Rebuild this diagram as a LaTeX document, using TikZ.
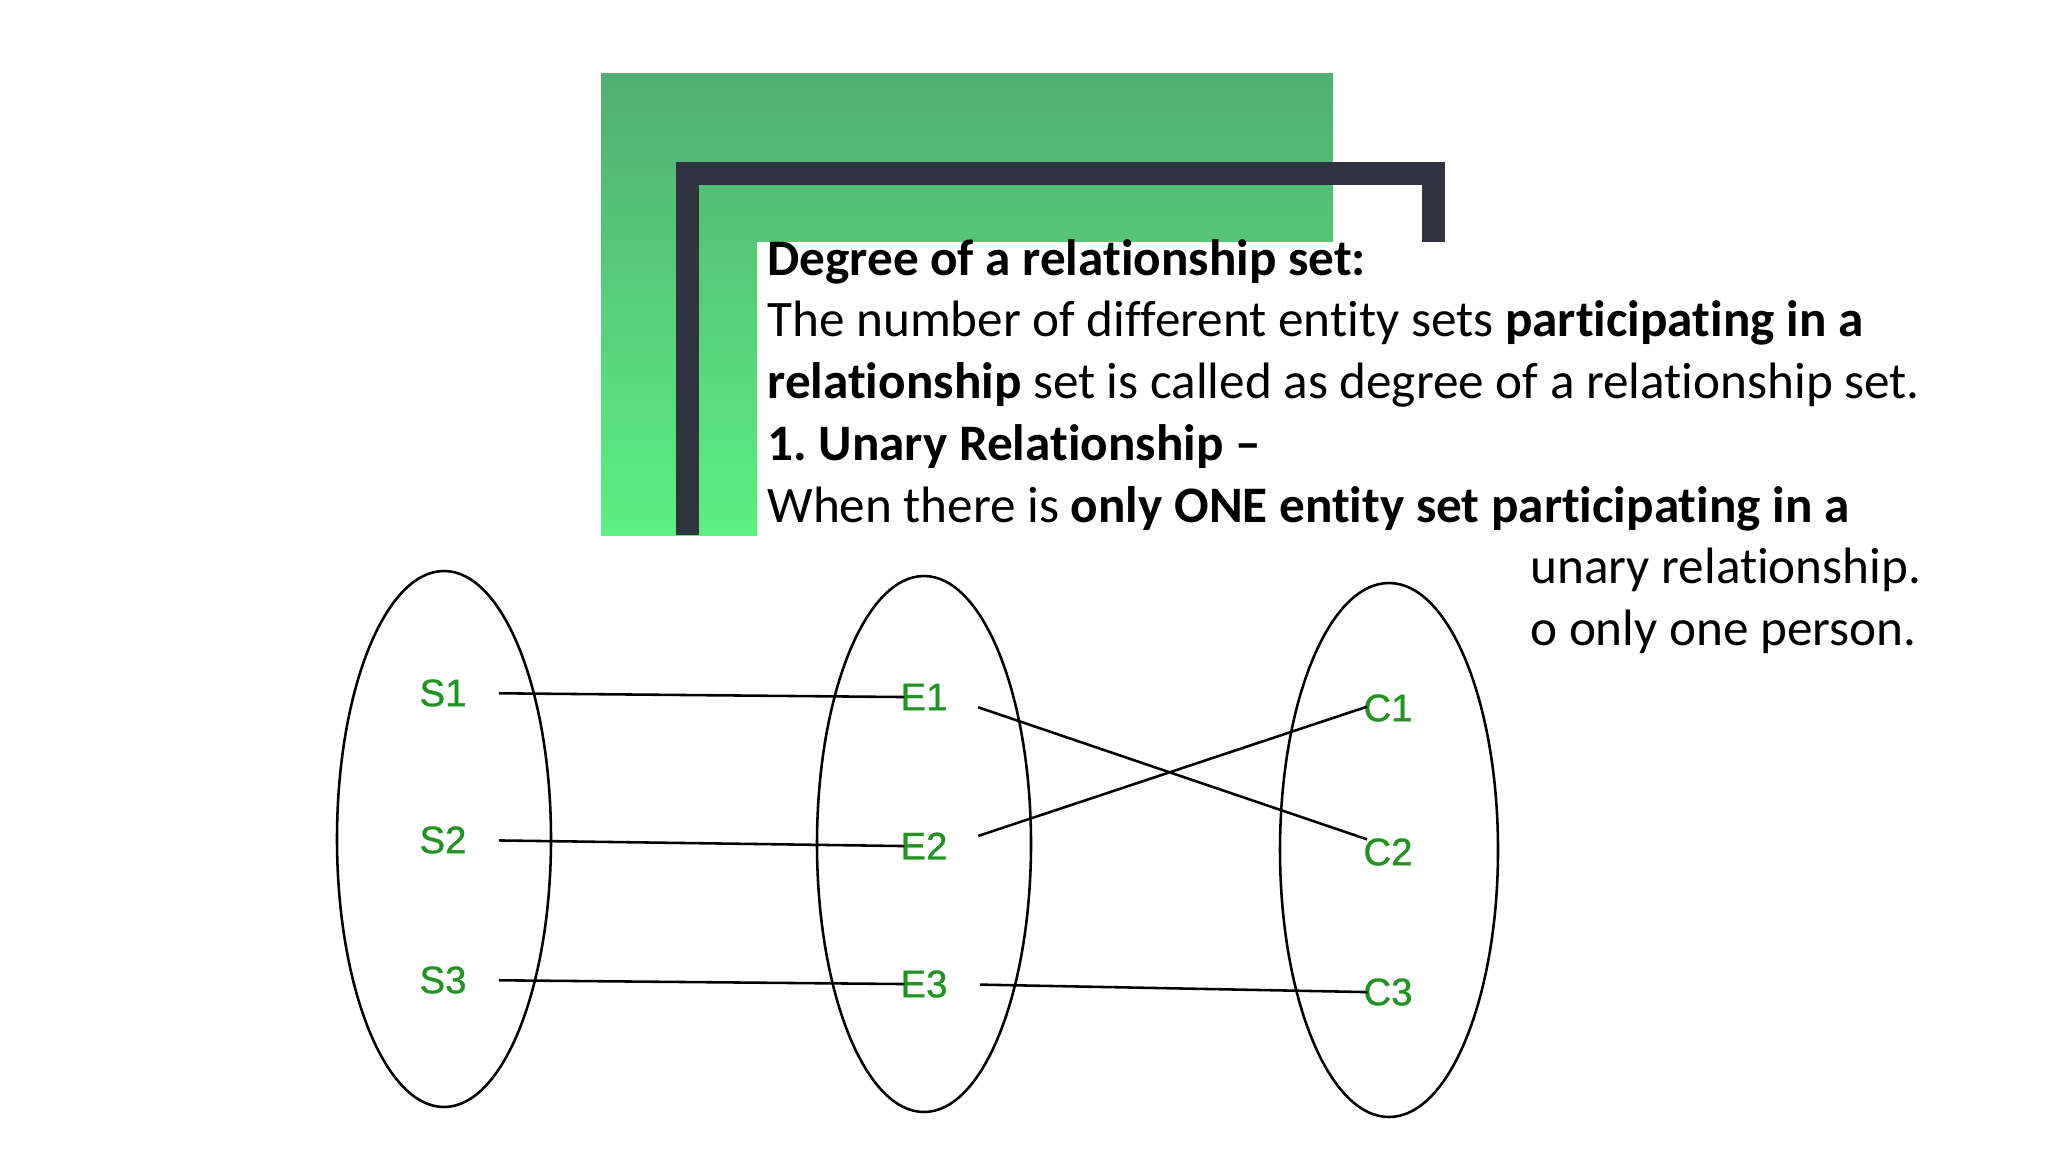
\documentclass[tikz,border=0pt]{standalone}
\usepackage{fontspec}
\setmainfont[RawFeature={-liga;-clig;-dlig;-calt}]{Carlito}
\newfontfamily\lblfont[FakeBold=0.8]{Liberation Sans}
\usepackage{tikz}
\usetikzlibrary{positioning}
\definecolor{grtop}{RGB}{82,174,114}
\definecolor{grbot}{RGB}{92,240,131}
\definecolor{frame}{RGB}{47,51,64}
\definecolor{lblgreen}{RGB}{34,146,34}
\frenchspacing
\tikzset{
  slide/.style = {anchor=base west, inner sep=0pt,
    font=\fontsize{24}{28.8}\selectfont},
  elem/.style = {inner sep=0pt, text=lblgreen,
    font=\lblfont\fontsize{18}{21}\selectfont},
  link/.style = {line width=1.2pt, shorten <=15pt, shorten >=-2pt}
}

\begin{document}
\begin{tikzpicture}[x=0.46875pt,y=-0.46875pt]
\useasboundingbox (0,0) rectangle (2048,1152);

\shade[top color=grtop, bottom color=grbot] (601,74) rectangle (1333,535);
\fill[white] (757,242) rectangle (1340,540);
\fill[frame] (676,162) rectangle (1445,185);
\fill[frame] (676,162) rectangle (699,535);
\fill[frame] (1422,162) rectangle (1445,242);

\node[slide] (t1) at (767,276) {\textbf{Degree of a relationship set:}};
\node[slide] (t2) at (767,337) {The number of different entity sets \textbf{participating in a}};
\node[slide] (t3) at (767,398) {\textbf{relationship} set is called as degree of a relationship set.};
\node[slide] (t4) at (767,460) {\textbf{1. Unary Relationship --}};
\node[slide] (t5) at (767,522) {When there is \textbf{only ONE entity set participating in a}};
\node[slide] (t6) at (1530,583) {unary relationship.};
\node[slide] (t7) at (1530,645) {o only one person.};

\draw[line width=1.2pt] (444,839) ellipse [x radius=107, y radius=268];
\draw[line width=1.2pt] (924,844) ellipse [x radius=107, y radius=268];
\draw[line width=1.2pt] (1389,850) ellipse [x radius=109, y radius=267];

\node[elem] (s1) at (443,693) {S1};
\node[elem] (s2) at (443,840) {S2};
\node[elem] (s3) at (443,980) {S3};
\node[elem] (e1) at (924,697) {E1};
\node[elem] (e2) at (924,846) {E2};
\node[elem] (e3) at (924,984) {E3};
\node[elem] (c1) at (1388,708) {C1};
\node[elem] (c2) at (1388,852) {C2};
\node[elem] (c3) at (1388,992) {C3};

\draw[link] (s1.east) -- (e1.west);
\draw[link] (s2.east) -- (e2.west);
\draw[link] (s3.east) -- (e3.west);
\draw[link] (e1.east) -- (c2.north west);
\draw[link] (e2.east) -- (c1.west);
\draw[link] (e3.east) -- (c3.west);
\end{tikzpicture}
\end{document}
